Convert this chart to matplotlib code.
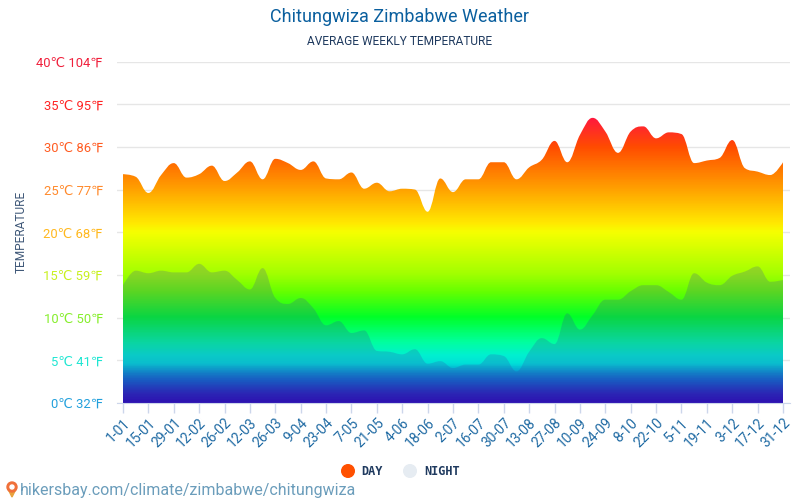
import matplotlib
matplotlib.use("Agg")
import matplotlib.pyplot as plt
import numpy as np
from matplotlib.colors import LinearSegmentedColormap
from matplotlib.patches import Circle, PathPatch, Polygon
from matplotlib.path import Path

plt.rcParams['font.family'] = ['Roboto', 'DejaVu Sans']

# weekly temperatures
day_temp = [26.8, 26.5, 24.6, 26.7, 28.1, 26.4, 26.8, 27.8, 26.0, 27.0, 28.3, 26.2, 28.6, 28.1,
            27.3, 28.3, 26.3, 26.2, 27.0, 25.1, 25.8, 24.8, 25.1, 25.0, 22.4, 26.3, 24.7, 26.2,
            26.2, 28.2, 28.2, 26.2, 27.6, 28.5, 30.7, 28.2, 31.4, 33.4, 31.8, 29.3, 31.8, 32.4,
            31.0, 31.7, 31.5, 28.1, 28.4, 28.7, 30.8, 27.5, 27.1, 26.7, 28.2]
night_temp = [13.8, 15.5, 15.2, 15.5, 15.3, 15.3, 16.3, 15.3, 15.5, 14.4, 13.3, 15.8, 12.3, 11.6,
              12.3, 11.1, 9.1, 9.6, 8.2, 8.5, 6.1, 6.0, 5.7, 6.3, 4.6, 4.9, 4.1, 4.5,
              4.5, 5.7, 5.5, 3.7, 6.0, 7.6, 6.9, 10.5, 8.6, 10.3, 12.1, 12.1, 13.1, 13.8,
              13.8, 13.0, 12.1, 15.2, 14.1, 13.8, 14.9, 15.4, 16.0, 14.2, 14.4]
date_labels = ['1-01', '15-01', '29-01', '12-02', '26-02', '12-03', '26-03', '9-04', '23-04',
               '7-05', '21-05', '4-06', '18-06', '2-07', '16-07', '30-07', '13-08', '27-08',
               '10-09', '24-09', '8-10', '22-10', '5-11', '19-11', '3-12', '17-12', '31-12']
y_ticks = [0, 5, 10, 15, 20, 25, 30, 35, 40]
y_labels = ['0℃ 32℉', '5℃ 41℉', '10℃ 50℉', '15℃ 59℉', '20℃ 68℉',
            '25℃ 77℉', '30℃ 86℉', '35℃ 95℉', '40℃ 104℉']
y_colors = ['#22a0dc', '#1fe6d2', '#86ee2c', '#c8f01e', '#ffb81e',
            '#ff8a2c', '#ff5c22', '#ff2424', '#f0203c']


def spline_area(xs, ys, base=0.0):
    # closed area under a smooth curve, same control points as a highcharts spline
    n = len(xs)
    verts = [(xs[0], base), (xs[0], ys[0])]
    codes = [Path.MOVETO, Path.LINETO]
    left = [None] * n
    right = [None] * n
    for i in range(n):
        if i == 0 or i == n - 1:
            left[i] = right[i] = (xs[i], ys[i])
            continue
        x, y = xs[i], ys[i]
        lx = (1.5 * x + xs[i - 1]) / 2.5
        ly = (1.5 * y + ys[i - 1]) / 2.5
        rx = (1.5 * x + xs[i + 1]) / 2.5
        ry = (1.5 * y + ys[i + 1]) / 2.5
        corr = (ry - ly) * (rx - x) / (rx - lx) + y - ry
        ly += corr
        ry += corr
        if ly > y and ly > ys[i - 1]:
            ly = max(y, ys[i - 1])
            ry = 2 * y - ly
        elif ly < y and ly < ys[i - 1]:
            ly = min(y, ys[i - 1])
            ry = 2 * y - ly
        if ry > y and ry > ys[i + 1]:
            ry = max(y, ys[i + 1])
            ly = 2 * y - ry
        elif ry < y and ry < ys[i + 1]:
            ry = min(y, ys[i + 1])
            ly = 2 * y - ry
        left[i] = (lx, ly)
        right[i] = (rx, ry)
    for i in range(1, n):
        verts += [right[i - 1], left[i], (xs[i], ys[i])]
        codes += [Path.CURVE4] * 3
    verts += [(xs[-1], base), (xs[0], base)]
    codes += [Path.LINETO, Path.CLOSEPOLY]
    return Path(verts, codes)


def fig_x(px):
    return px / 800


def fig_y(py):
    return 1 - py / 500


fig = plt.figure(figsize=(8, 5), dpi=100)
ax = fig.add_axes([fig_x(117), fig_y(403), (790 - 117) / 800, (403 - 61.5) / 500])

weeks = np.arange(len(day_temp))
px_per_week = (783 - 123) / 52
x_min = -(123 - 117) / px_per_week
x_max = 52 + (790 - 783) / px_per_week
ax.set_xlim(x_min, x_max)
ax.set_ylim(0, 40)

# colour of the day area by temperature
stops = [(0, '#2c08b4'), (1, '#2a20b8'), (2.5, '#1460c8'), (3.5, '#0a94d0'), (4.5, '#00e0d8'),
         (5.5, '#00f0d0'), (7, '#00ffa0'), (10, '#00ff28'), (13, '#66ff00'), (15, '#a0ff00'),
         (17.5, '#ccff00'), (20, '#f6ff00'), (21, '#ffea00'), (25, '#ffa200'), (30, '#ff4c00'),
         (34, '#ff1048'), (40, '#ff0060')]
cmap = LinearSegmentedColormap.from_list('temp', [(t / 40, c) for t, c in stops])
grad = np.linspace(0, 1, 400).reshape(-1, 1)
img = ax.imshow(grad, cmap=cmap, origin='lower', aspect='auto',
                extent=(x_min, x_max, 0, 40), zorder=2, interpolation='bilinear')
img.set_clip_path(PathPatch(spline_area(weeks, day_temp), transform=ax.transData))

# night sits on top as a thin bluish veil
ax.add_patch(PathPatch(spline_area(weeks, night_temp), facecolor=(0.2, 0.24, 0.66, 0.21),
                       edgecolor='none', zorder=3))

ax.set_xticks(weeks[::2])
ax.set_xticklabels(date_labels, rotation=45, rotation_mode='anchor', ha='right', va='top',
                   fontsize=10, color='#1f6aa3')
ax.tick_params(axis='x', length=7.2, width=1, color='#ccd6eb', pad=2)

ax.set_yticks(y_ticks)
ax.set_yticklabels(y_labels, fontsize=9.4)
for lab, col in zip(ax.get_yticklabels(), y_colors):
    lab.set_color(col)
ax.tick_params(axis='y', length=0, pad=10)

ax.grid(axis='y', color='#e6e6e6', linewidth=1)
ax.set_axisbelow(True)
for side in ['top', 'left', 'right']:
    ax.spines[side].set_visible(False)
ax.spines['bottom'].set_color('#ccd6eb')
ax.spines['bottom'].set_zorder(4)

fig.text(0.5, fig_y(17.5), 'Chitungwiza Zimbabwe Weather', ha='center', va='center',
         fontsize=13, color='#0a5f9e')
fig.text(0.5, fig_y(41.5), 'AVERAGE WEEKLY TEMPERATURE', ha='center', va='center',
         fontsize=8.6, color='#1f3a5f')
fig.text(fig_x(21), fig_y(232), 'TEMPERATURE', rotation=90, ha='center', va='center',
         fontsize=8.6, color='#3f5878')

# legend
fig.add_artist(Circle((348, 500 - 471), 6.3, transform=None, color='#ff5000'))
fig.add_artist(Circle((410, 500 - 471), 6.3, transform=None, color='#e6ecf2'))
fig.text(fig_x(361), fig_y(471.5), 'DAY', family='DejaVu Sans Mono', weight='bold',
         fontsize=8.6, color='#1f3a5f', ha='left', va='center')
fig.text(fig_x(424), fig_y(471.5), 'NIGHT', family='DejaVu Sans Mono', weight='bold',
         fontsize=8.6, color='#1f3a5f', ha='left', va='center')

# source line with the little pin
fig.add_artist(Polygon([(7.5, 12), (16.5, 12), (12, 3)], transform=None, color='#e8a23c'))
fig.add_artist(Circle((12, 500 - 487), 5, transform=None, color='#f0703a'))
fig.add_artist(Circle((12, 500 - 487), 2, transform=None, color='white'))
fig.text(fig_x(20), fig_y(490), 'hikersbay.com/climate/zimbabwe/chitungwiza', ha='left', va='center',
         fontsize=11.55, color='#6b9dbb')

fig.savefig('out.png', dpi=100)
